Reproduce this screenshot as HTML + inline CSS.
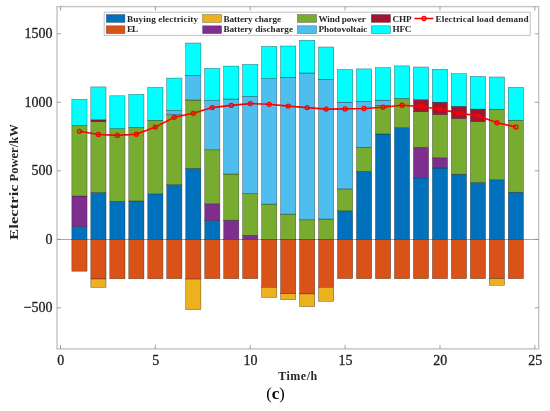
<!DOCTYPE html>
<html><head><meta charset="utf-8"><style>
html,body{margin:0;padding:0;background:#fff;}
body{width:550px;height:411px;overflow:hidden;}
svg{display:block;will-change:transform;}
text{font-family:"Liberation Serif",serif;}
</style></head><body>
<svg width="550" height="411" viewBox="0 0 550 411">
<rect x="0" y="0" width="550" height="411" fill="#fff"/>
<line x1="57.0" y1="239.5" x2="538.7" y2="239.5" stroke="#262626" stroke-opacity="0.5" stroke-width="0.8"/>
<rect x="71.85" y="226.50" width="15.2" height="13.00" fill="#0072BD" stroke="#1a1a1a" stroke-opacity="0.65" stroke-width="0.5"/>
<rect x="71.85" y="196.00" width="15.2" height="30.50" fill="#7E2F8E" stroke="#1a1a1a" stroke-opacity="0.65" stroke-width="0.5"/>
<rect x="71.85" y="125.40" width="15.2" height="70.60" fill="#77AC30" stroke="#1a1a1a" stroke-opacity="0.65" stroke-width="0.5"/>
<rect x="71.85" y="99.30" width="15.2" height="26.10" fill="#00FFFF" stroke="#1a1a1a" stroke-opacity="0.65" stroke-width="0.5"/>
<rect x="71.85" y="239.50" width="15.2" height="31.70" fill="#D95319" stroke="#1a1a1a" stroke-opacity="0.65" stroke-width="0.5"/>
<rect x="90.82" y="192.50" width="15.2" height="47.00" fill="#0072BD" stroke="#1a1a1a" stroke-opacity="0.65" stroke-width="0.5"/>
<rect x="90.82" y="121.70" width="15.2" height="70.80" fill="#77AC30" stroke="#1a1a1a" stroke-opacity="0.65" stroke-width="0.5"/>
<rect x="90.82" y="119.80" width="15.2" height="1.90" fill="#A2142F" stroke="#1a1a1a" stroke-opacity="0.65" stroke-width="0.5"/>
<rect x="90.82" y="86.90" width="15.2" height="32.90" fill="#00FFFF" stroke="#1a1a1a" stroke-opacity="0.65" stroke-width="0.5"/>
<rect x="90.82" y="239.50" width="15.2" height="39.50" fill="#D95319" stroke="#1a1a1a" stroke-opacity="0.65" stroke-width="0.5"/>
<rect x="90.82" y="279.00" width="15.2" height="8.40" fill="#EDB120" stroke="#1a1a1a" stroke-opacity="0.65" stroke-width="0.5"/>
<rect x="109.80" y="201.30" width="15.2" height="38.20" fill="#0072BD" stroke="#1a1a1a" stroke-opacity="0.65" stroke-width="0.5"/>
<rect x="109.80" y="128.60" width="15.2" height="72.70" fill="#77AC30" stroke="#1a1a1a" stroke-opacity="0.65" stroke-width="0.5"/>
<rect x="109.80" y="95.80" width="15.2" height="32.80" fill="#00FFFF" stroke="#1a1a1a" stroke-opacity="0.65" stroke-width="0.5"/>
<rect x="109.80" y="239.50" width="15.2" height="39.30" fill="#D95319" stroke="#1a1a1a" stroke-opacity="0.65" stroke-width="0.5"/>
<rect x="128.77" y="200.90" width="15.2" height="38.60" fill="#0072BD" stroke="#1a1a1a" stroke-opacity="0.65" stroke-width="0.5"/>
<rect x="128.77" y="127.30" width="15.2" height="73.60" fill="#77AC30" stroke="#1a1a1a" stroke-opacity="0.65" stroke-width="0.5"/>
<rect x="128.77" y="94.30" width="15.2" height="33.00" fill="#00FFFF" stroke="#1a1a1a" stroke-opacity="0.65" stroke-width="0.5"/>
<rect x="128.77" y="239.50" width="15.2" height="39.30" fill="#D95319" stroke="#1a1a1a" stroke-opacity="0.65" stroke-width="0.5"/>
<rect x="147.75" y="193.90" width="15.2" height="45.60" fill="#0072BD" stroke="#1a1a1a" stroke-opacity="0.65" stroke-width="0.5"/>
<rect x="147.75" y="120.30" width="15.2" height="73.60" fill="#77AC30" stroke="#1a1a1a" stroke-opacity="0.65" stroke-width="0.5"/>
<rect x="147.75" y="87.40" width="15.2" height="32.90" fill="#00FFFF" stroke="#1a1a1a" stroke-opacity="0.65" stroke-width="0.5"/>
<rect x="147.75" y="239.50" width="15.2" height="39.30" fill="#D95319" stroke="#1a1a1a" stroke-opacity="0.65" stroke-width="0.5"/>
<rect x="166.73" y="184.70" width="15.2" height="54.80" fill="#0072BD" stroke="#1a1a1a" stroke-opacity="0.65" stroke-width="0.5"/>
<rect x="166.73" y="114.70" width="15.2" height="70.00" fill="#77AC30" stroke="#1a1a1a" stroke-opacity="0.65" stroke-width="0.5"/>
<rect x="166.73" y="110.50" width="15.2" height="4.20" fill="#4DBEEE" stroke="#1a1a1a" stroke-opacity="0.65" stroke-width="0.5"/>
<rect x="166.73" y="78.10" width="15.2" height="32.40" fill="#00FFFF" stroke="#1a1a1a" stroke-opacity="0.65" stroke-width="0.5"/>
<rect x="166.73" y="239.50" width="15.2" height="39.20" fill="#D95319" stroke="#1a1a1a" stroke-opacity="0.65" stroke-width="0.5"/>
<rect x="185.70" y="168.40" width="15.2" height="71.10" fill="#0072BD" stroke="#1a1a1a" stroke-opacity="0.65" stroke-width="0.5"/>
<rect x="185.70" y="100.00" width="15.2" height="68.40" fill="#77AC30" stroke="#1a1a1a" stroke-opacity="0.65" stroke-width="0.5"/>
<rect x="185.70" y="75.40" width="15.2" height="24.60" fill="#4DBEEE" stroke="#1a1a1a" stroke-opacity="0.65" stroke-width="0.5"/>
<rect x="185.70" y="43.00" width="15.2" height="32.40" fill="#00FFFF" stroke="#1a1a1a" stroke-opacity="0.65" stroke-width="0.5"/>
<rect x="185.70" y="239.50" width="15.2" height="39.60" fill="#D95319" stroke="#1a1a1a" stroke-opacity="0.65" stroke-width="0.5"/>
<rect x="185.70" y="279.10" width="15.2" height="30.50" fill="#EDB120" stroke="#1a1a1a" stroke-opacity="0.65" stroke-width="0.5"/>
<rect x="204.68" y="220.60" width="15.2" height="18.90" fill="#0072BD" stroke="#1a1a1a" stroke-opacity="0.65" stroke-width="0.5"/>
<rect x="204.68" y="203.80" width="15.2" height="16.80" fill="#7E2F8E" stroke="#1a1a1a" stroke-opacity="0.65" stroke-width="0.5"/>
<rect x="204.68" y="149.80" width="15.2" height="54.00" fill="#77AC30" stroke="#1a1a1a" stroke-opacity="0.65" stroke-width="0.5"/>
<rect x="204.68" y="100.60" width="15.2" height="49.20" fill="#4DBEEE" stroke="#1a1a1a" stroke-opacity="0.65" stroke-width="0.5"/>
<rect x="204.68" y="68.40" width="15.2" height="32.20" fill="#00FFFF" stroke="#1a1a1a" stroke-opacity="0.65" stroke-width="0.5"/>
<rect x="204.68" y="239.50" width="15.2" height="39.20" fill="#D95319" stroke="#1a1a1a" stroke-opacity="0.65" stroke-width="0.5"/>
<rect x="223.65" y="220.20" width="15.2" height="19.30" fill="#7E2F8E" stroke="#1a1a1a" stroke-opacity="0.65" stroke-width="0.5"/>
<rect x="223.65" y="174.00" width="15.2" height="46.20" fill="#77AC30" stroke="#1a1a1a" stroke-opacity="0.65" stroke-width="0.5"/>
<rect x="223.65" y="99.00" width="15.2" height="75.00" fill="#4DBEEE" stroke="#1a1a1a" stroke-opacity="0.65" stroke-width="0.5"/>
<rect x="223.65" y="66.10" width="15.2" height="32.90" fill="#00FFFF" stroke="#1a1a1a" stroke-opacity="0.65" stroke-width="0.5"/>
<rect x="223.65" y="239.50" width="15.2" height="39.20" fill="#D95319" stroke="#1a1a1a" stroke-opacity="0.65" stroke-width="0.5"/>
<rect x="242.63" y="235.30" width="15.2" height="4.20" fill="#7E2F8E" stroke="#1a1a1a" stroke-opacity="0.65" stroke-width="0.5"/>
<rect x="242.63" y="193.60" width="15.2" height="41.70" fill="#77AC30" stroke="#1a1a1a" stroke-opacity="0.65" stroke-width="0.5"/>
<rect x="242.63" y="96.50" width="15.2" height="97.10" fill="#4DBEEE" stroke="#1a1a1a" stroke-opacity="0.65" stroke-width="0.5"/>
<rect x="242.63" y="64.40" width="15.2" height="32.10" fill="#00FFFF" stroke="#1a1a1a" stroke-opacity="0.65" stroke-width="0.5"/>
<rect x="242.63" y="239.50" width="15.2" height="39.20" fill="#D95319" stroke="#1a1a1a" stroke-opacity="0.65" stroke-width="0.5"/>
<rect x="261.61" y="204.10" width="15.2" height="35.40" fill="#77AC30" stroke="#1a1a1a" stroke-opacity="0.65" stroke-width="0.5"/>
<rect x="261.61" y="78.70" width="15.2" height="125.40" fill="#4DBEEE" stroke="#1a1a1a" stroke-opacity="0.65" stroke-width="0.5"/>
<rect x="261.61" y="46.40" width="15.2" height="32.30" fill="#00FFFF" stroke="#1a1a1a" stroke-opacity="0.65" stroke-width="0.5"/>
<rect x="261.61" y="239.50" width="15.2" height="47.80" fill="#D95319" stroke="#1a1a1a" stroke-opacity="0.65" stroke-width="0.5"/>
<rect x="261.61" y="287.30" width="15.2" height="10.10" fill="#EDB120" stroke="#1a1a1a" stroke-opacity="0.65" stroke-width="0.5"/>
<rect x="280.58" y="214.10" width="15.2" height="25.40" fill="#77AC30" stroke="#1a1a1a" stroke-opacity="0.65" stroke-width="0.5"/>
<rect x="280.58" y="77.30" width="15.2" height="136.80" fill="#4DBEEE" stroke="#1a1a1a" stroke-opacity="0.65" stroke-width="0.5"/>
<rect x="280.58" y="46.00" width="15.2" height="31.30" fill="#00FFFF" stroke="#1a1a1a" stroke-opacity="0.65" stroke-width="0.5"/>
<rect x="280.58" y="239.50" width="15.2" height="54.20" fill="#D95319" stroke="#1a1a1a" stroke-opacity="0.65" stroke-width="0.5"/>
<rect x="280.58" y="293.70" width="15.2" height="5.90" fill="#EDB120" stroke="#1a1a1a" stroke-opacity="0.65" stroke-width="0.5"/>
<rect x="299.56" y="219.80" width="15.2" height="19.70" fill="#77AC30" stroke="#1a1a1a" stroke-opacity="0.65" stroke-width="0.5"/>
<rect x="299.56" y="73.00" width="15.2" height="146.80" fill="#4DBEEE" stroke="#1a1a1a" stroke-opacity="0.65" stroke-width="0.5"/>
<rect x="299.56" y="40.30" width="15.2" height="32.70" fill="#00FFFF" stroke="#1a1a1a" stroke-opacity="0.65" stroke-width="0.5"/>
<rect x="299.56" y="239.50" width="15.2" height="54.40" fill="#D95319" stroke="#1a1a1a" stroke-opacity="0.65" stroke-width="0.5"/>
<rect x="299.56" y="293.90" width="15.2" height="12.70" fill="#EDB120" stroke="#1a1a1a" stroke-opacity="0.65" stroke-width="0.5"/>
<rect x="318.53" y="219.00" width="15.2" height="20.50" fill="#77AC30" stroke="#1a1a1a" stroke-opacity="0.65" stroke-width="0.5"/>
<rect x="318.53" y="79.30" width="15.2" height="139.70" fill="#4DBEEE" stroke="#1a1a1a" stroke-opacity="0.65" stroke-width="0.5"/>
<rect x="318.53" y="47.00" width="15.2" height="32.30" fill="#00FFFF" stroke="#1a1a1a" stroke-opacity="0.65" stroke-width="0.5"/>
<rect x="318.53" y="239.50" width="15.2" height="47.80" fill="#D95319" stroke="#1a1a1a" stroke-opacity="0.65" stroke-width="0.5"/>
<rect x="318.53" y="287.30" width="15.2" height="14.00" fill="#EDB120" stroke="#1a1a1a" stroke-opacity="0.65" stroke-width="0.5"/>
<rect x="337.51" y="210.80" width="15.2" height="28.70" fill="#0072BD" stroke="#1a1a1a" stroke-opacity="0.65" stroke-width="0.5"/>
<rect x="337.51" y="188.90" width="15.2" height="21.90" fill="#77AC30" stroke="#1a1a1a" stroke-opacity="0.65" stroke-width="0.5"/>
<rect x="337.51" y="102.20" width="15.2" height="86.70" fill="#4DBEEE" stroke="#1a1a1a" stroke-opacity="0.65" stroke-width="0.5"/>
<rect x="337.51" y="69.50" width="15.2" height="32.70" fill="#00FFFF" stroke="#1a1a1a" stroke-opacity="0.65" stroke-width="0.5"/>
<rect x="337.51" y="239.50" width="15.2" height="39.10" fill="#D95319" stroke="#1a1a1a" stroke-opacity="0.65" stroke-width="0.5"/>
<rect x="356.49" y="171.40" width="15.2" height="68.10" fill="#0072BD" stroke="#1a1a1a" stroke-opacity="0.65" stroke-width="0.5"/>
<rect x="356.49" y="147.30" width="15.2" height="24.10" fill="#77AC30" stroke="#1a1a1a" stroke-opacity="0.65" stroke-width="0.5"/>
<rect x="356.49" y="101.30" width="15.2" height="46.00" fill="#4DBEEE" stroke="#1a1a1a" stroke-opacity="0.65" stroke-width="0.5"/>
<rect x="356.49" y="68.90" width="15.2" height="32.40" fill="#00FFFF" stroke="#1a1a1a" stroke-opacity="0.65" stroke-width="0.5"/>
<rect x="356.49" y="239.50" width="15.2" height="39.20" fill="#D95319" stroke="#1a1a1a" stroke-opacity="0.65" stroke-width="0.5"/>
<rect x="375.46" y="134.00" width="15.2" height="105.50" fill="#0072BD" stroke="#1a1a1a" stroke-opacity="0.65" stroke-width="0.5"/>
<rect x="375.46" y="105.30" width="15.2" height="28.70" fill="#77AC30" stroke="#1a1a1a" stroke-opacity="0.65" stroke-width="0.5"/>
<rect x="375.46" y="100.20" width="15.2" height="5.10" fill="#4DBEEE" stroke="#1a1a1a" stroke-opacity="0.65" stroke-width="0.5"/>
<rect x="375.46" y="67.60" width="15.2" height="32.60" fill="#00FFFF" stroke="#1a1a1a" stroke-opacity="0.65" stroke-width="0.5"/>
<rect x="375.46" y="239.50" width="15.2" height="39.20" fill="#D95319" stroke="#1a1a1a" stroke-opacity="0.65" stroke-width="0.5"/>
<rect x="394.44" y="127.70" width="15.2" height="111.80" fill="#0072BD" stroke="#1a1a1a" stroke-opacity="0.65" stroke-width="0.5"/>
<rect x="394.44" y="98.40" width="15.2" height="29.30" fill="#77AC30" stroke="#1a1a1a" stroke-opacity="0.65" stroke-width="0.5"/>
<rect x="394.44" y="65.90" width="15.2" height="32.50" fill="#00FFFF" stroke="#1a1a1a" stroke-opacity="0.65" stroke-width="0.5"/>
<rect x="394.44" y="239.50" width="15.2" height="39.20" fill="#D95319" stroke="#1a1a1a" stroke-opacity="0.65" stroke-width="0.5"/>
<rect x="413.41" y="177.90" width="15.2" height="61.60" fill="#0072BD" stroke="#1a1a1a" stroke-opacity="0.65" stroke-width="0.5"/>
<rect x="413.41" y="147.30" width="15.2" height="30.60" fill="#7E2F8E" stroke="#1a1a1a" stroke-opacity="0.65" stroke-width="0.5"/>
<rect x="413.41" y="111.70" width="15.2" height="35.60" fill="#77AC30" stroke="#1a1a1a" stroke-opacity="0.65" stroke-width="0.5"/>
<rect x="413.41" y="99.70" width="15.2" height="12.00" fill="#A2142F" stroke="#1a1a1a" stroke-opacity="0.65" stroke-width="0.5"/>
<rect x="413.41" y="67.00" width="15.2" height="32.70" fill="#00FFFF" stroke="#1a1a1a" stroke-opacity="0.65" stroke-width="0.5"/>
<rect x="413.41" y="239.50" width="15.2" height="39.20" fill="#D95319" stroke="#1a1a1a" stroke-opacity="0.65" stroke-width="0.5"/>
<rect x="432.39" y="168.00" width="15.2" height="71.50" fill="#0072BD" stroke="#1a1a1a" stroke-opacity="0.65" stroke-width="0.5"/>
<rect x="432.39" y="157.80" width="15.2" height="10.20" fill="#7E2F8E" stroke="#1a1a1a" stroke-opacity="0.65" stroke-width="0.5"/>
<rect x="432.39" y="114.60" width="15.2" height="43.20" fill="#77AC30" stroke="#1a1a1a" stroke-opacity="0.65" stroke-width="0.5"/>
<rect x="432.39" y="102.20" width="15.2" height="12.40" fill="#A2142F" stroke="#1a1a1a" stroke-opacity="0.65" stroke-width="0.5"/>
<rect x="432.39" y="69.30" width="15.2" height="32.90" fill="#00FFFF" stroke="#1a1a1a" stroke-opacity="0.65" stroke-width="0.5"/>
<rect x="432.39" y="239.50" width="15.2" height="39.20" fill="#D95319" stroke="#1a1a1a" stroke-opacity="0.65" stroke-width="0.5"/>
<rect x="451.37" y="174.20" width="15.2" height="65.30" fill="#0072BD" stroke="#1a1a1a" stroke-opacity="0.65" stroke-width="0.5"/>
<rect x="451.37" y="118.50" width="15.2" height="55.70" fill="#77AC30" stroke="#1a1a1a" stroke-opacity="0.65" stroke-width="0.5"/>
<rect x="451.37" y="106.30" width="15.2" height="12.20" fill="#A2142F" stroke="#1a1a1a" stroke-opacity="0.65" stroke-width="0.5"/>
<rect x="451.37" y="73.70" width="15.2" height="32.60" fill="#00FFFF" stroke="#1a1a1a" stroke-opacity="0.65" stroke-width="0.5"/>
<rect x="451.37" y="239.50" width="15.2" height="39.20" fill="#D95319" stroke="#1a1a1a" stroke-opacity="0.65" stroke-width="0.5"/>
<rect x="470.34" y="182.50" width="15.2" height="57.00" fill="#0072BD" stroke="#1a1a1a" stroke-opacity="0.65" stroke-width="0.5"/>
<rect x="470.34" y="121.60" width="15.2" height="60.90" fill="#77AC30" stroke="#1a1a1a" stroke-opacity="0.65" stroke-width="0.5"/>
<rect x="470.34" y="109.10" width="15.2" height="12.50" fill="#A2142F" stroke="#1a1a1a" stroke-opacity="0.65" stroke-width="0.5"/>
<rect x="470.34" y="76.40" width="15.2" height="32.70" fill="#00FFFF" stroke="#1a1a1a" stroke-opacity="0.65" stroke-width="0.5"/>
<rect x="470.34" y="239.50" width="15.2" height="39.20" fill="#D95319" stroke="#1a1a1a" stroke-opacity="0.65" stroke-width="0.5"/>
<rect x="489.32" y="179.80" width="15.2" height="59.70" fill="#0072BD" stroke="#1a1a1a" stroke-opacity="0.65" stroke-width="0.5"/>
<rect x="489.32" y="109.20" width="15.2" height="70.60" fill="#77AC30" stroke="#1a1a1a" stroke-opacity="0.65" stroke-width="0.5"/>
<rect x="489.32" y="77.00" width="15.2" height="32.20" fill="#00FFFF" stroke="#1a1a1a" stroke-opacity="0.65" stroke-width="0.5"/>
<rect x="489.32" y="239.50" width="15.2" height="39.20" fill="#D95319" stroke="#1a1a1a" stroke-opacity="0.65" stroke-width="0.5"/>
<rect x="489.32" y="278.70" width="15.2" height="6.60" fill="#EDB120" stroke="#1a1a1a" stroke-opacity="0.65" stroke-width="0.5"/>
<rect x="508.29" y="192.20" width="15.2" height="47.30" fill="#0072BD" stroke="#1a1a1a" stroke-opacity="0.65" stroke-width="0.5"/>
<rect x="508.29" y="120.20" width="15.2" height="72.00" fill="#77AC30" stroke="#1a1a1a" stroke-opacity="0.65" stroke-width="0.5"/>
<rect x="508.29" y="87.40" width="15.2" height="32.80" fill="#00FFFF" stroke="#1a1a1a" stroke-opacity="0.65" stroke-width="0.5"/>
<rect x="508.29" y="239.50" width="15.2" height="39.20" fill="#D95319" stroke="#1a1a1a" stroke-opacity="0.65" stroke-width="0.5"/>
<polyline points="79.45,131.30 98.42,134.50 117.40,135.40 136.37,134.20 155.35,127.10 174.33,117.30 193.30,113.30 212.28,107.60 231.25,105.40 250.23,103.60 269.21,104.30 288.18,106.10 307.16,107.60 326.13,109.10 345.11,108.90 364.09,108.50 383.06,107.20 402.04,105.20 421.01,106.50 439.99,109.20 458.97,113.10 477.94,115.80 496.92,122.70 515.89,126.90" fill="none" stroke="#FF0000" stroke-width="1.6"/>
<g fill="none" stroke="#FF0000" stroke-width="1.35">
<circle cx="79.45" cy="131.30" r="2.0"/>
<circle cx="98.42" cy="134.50" r="2.0"/>
<circle cx="117.40" cy="135.40" r="2.0"/>
<circle cx="136.37" cy="134.20" r="2.0"/>
<circle cx="155.35" cy="127.10" r="2.0"/>
<circle cx="174.33" cy="117.30" r="2.0"/>
<circle cx="193.30" cy="113.30" r="2.0"/>
<circle cx="212.28" cy="107.60" r="2.0"/>
<circle cx="231.25" cy="105.40" r="2.0"/>
<circle cx="250.23" cy="103.60" r="2.0"/>
<circle cx="269.21" cy="104.30" r="2.0"/>
<circle cx="288.18" cy="106.10" r="2.0"/>
<circle cx="307.16" cy="107.60" r="2.0"/>
<circle cx="326.13" cy="109.10" r="2.0"/>
<circle cx="345.11" cy="108.90" r="2.0"/>
<circle cx="364.09" cy="108.50" r="2.0"/>
<circle cx="383.06" cy="107.20" r="2.0"/>
<circle cx="402.04" cy="105.20" r="2.0"/>
<circle cx="421.01" cy="106.50" r="2.0"/>
<circle cx="439.99" cy="109.20" r="2.0"/>
<circle cx="458.97" cy="113.10" r="2.0"/>
<circle cx="477.94" cy="115.80" r="2.0"/>
<circle cx="496.92" cy="122.70" r="2.0"/>
<circle cx="515.89" cy="126.90" r="2.0"/>
</g>
<rect x="57.0" y="6.6" width="481.70000000000005" height="342.29999999999995" fill="none" stroke="#c2c2c2" stroke-width="1.4"/>
<g stroke="#8a8a8a" stroke-width="0.8">
<line x1="60.47" y1="348.9" x2="60.47" y2="344.9"/><line x1="60.47" y1="6.6" x2="60.47" y2="10.6"/>
<line x1="155.35" y1="348.9" x2="155.35" y2="344.9"/><line x1="155.35" y1="6.6" x2="155.35" y2="10.6"/>
<line x1="250.23" y1="348.9" x2="250.23" y2="344.9"/><line x1="250.23" y1="6.6" x2="250.23" y2="10.6"/>
<line x1="345.11" y1="348.9" x2="345.11" y2="344.9"/><line x1="345.11" y1="6.6" x2="345.11" y2="10.6"/>
<line x1="439.99" y1="348.9" x2="439.99" y2="344.9"/><line x1="439.99" y1="6.6" x2="439.99" y2="10.6"/>
<line x1="534.87" y1="348.9" x2="534.87" y2="344.9"/><line x1="534.87" y1="6.6" x2="534.87" y2="10.6"/>
<line x1="57.0" y1="33.8" x2="61.0" y2="33.8"/><line x1="538.7" y1="33.8" x2="534.7" y2="33.8"/>
<line x1="57.0" y1="102.3" x2="61.0" y2="102.3"/><line x1="538.7" y1="102.3" x2="534.7" y2="102.3"/>
<line x1="57.0" y1="170.8" x2="61.0" y2="170.8"/><line x1="538.7" y1="170.8" x2="534.7" y2="170.8"/>
<line x1="57.0" y1="239.3" x2="61.0" y2="239.3"/><line x1="538.7" y1="239.3" x2="534.7" y2="239.3"/>
<line x1="57.0" y1="307.8" x2="61.0" y2="307.8"/><line x1="538.7" y1="307.8" x2="534.7" y2="307.8"/>
</g>
<g font-size="14" fill="#1e1e1e" stroke="#1e1e1e" stroke-width="0.3" text-anchor="middle">
<text x="60.77" y="365.2">0</text>
<text x="155.65" y="365.2">5</text>
<text x="250.53" y="365.2">10</text>
<text x="345.41" y="365.2">15</text>
<text x="440.29" y="365.2">20</text>
<text x="535.17" y="365.2">25</text>
</g>
<g font-size="14" fill="#1e1e1e" stroke="#1e1e1e" stroke-width="0.3" text-anchor="end">
<text x="52.6" y="38.0">1500</text>
<text x="52.6" y="106.5">1000</text>
<text x="52.6" y="175.0">500</text>
<text x="52.6" y="243.5">0</text>
<text x="52.6" y="312.0">&#8722;500</text>
</g>
<text x="278.2" y="380" font-size="12" font-weight="bold" fill="#262626" textLength="39">Time/h</text>
<g transform="translate(17.5,0) rotate(-90)" font-size="11.5" font-weight="bold" fill="#262626" lengthAdjust="spacingAndGlyphs"><text x="-239.9" y="0" textLength="55.6" lengthAdjust="spacingAndGlyphs">Electric</text><text x="-181.5" y="0" textLength="57.2" lengthAdjust="spacingAndGlyphs">Power/kW</text></g>
<text x="275.6" y="399" font-size="16.5" fill="#000" text-anchor="middle">(<tspan font-weight="bold" font-size="17">c</tspan>)</text>
<!-- legend -->
<rect x="104.2" y="12.2" width="426" height="23.2" fill="#fff" stroke="#c4c4c4" stroke-width="1"/>
<g stroke="#1a1a1a" stroke-opacity="0.6" stroke-width="0.5">
<rect x="106.3" y="14.5" width="18.6" height="7.9" fill="#0072BD"/>
<rect x="106.3" y="25.8" width="18.6" height="7.8" fill="#D95319"/>
<rect x="202.6" y="14.5" width="19" height="7.9" fill="#EDB120"/>
<rect x="202.6" y="25.8" width="19" height="7.8" fill="#7E2F8E"/>
<rect x="297.4" y="14.5" width="19.2" height="7.9" fill="#77AC30"/>
<rect x="297.4" y="25.8" width="19.2" height="7.8" fill="#4DBEEE"/>
<rect x="371.3" y="14.5" width="19.2" height="7.9" fill="#A2142F"/>
<rect x="371.3" y="25.8" width="19.2" height="7.8" fill="#00FFFF"/>
</g>
<line x1="414.4" y1="18.5" x2="433.5" y2="18.5" stroke="#FF0000" stroke-width="1.6"/>
<circle cx="424" cy="18.5" r="2.0" fill="none" stroke="#FF0000" stroke-width="1.35"/>
<g font-size="9.2" font-weight="bold" fill="#262626" lengthAdjust="spacing">
<text x="127.1" y="21.6" textLength="71">Buying electricity</text>
<text x="127.1" y="32.2" textLength="11">EL</text>
<text x="223.4" y="21.6" textLength="57.6">Battery charge</text>
<text x="223.4" y="32.2" textLength="69.6">Battery discharge</text>
<text x="318.4" y="21.6" textLength="47.4">Wind power</text>
<text x="318.4" y="32.2" textLength="49">Photovoltaic</text>
<text x="392.5" y="21.6" textLength="19">CHP</text>
<text x="392.5" y="32.2" textLength="19">HFC</text>
<text x="435.5" y="21.6" textLength="93">Electrical load demand</text>
</g>
</svg>
</body></html>
